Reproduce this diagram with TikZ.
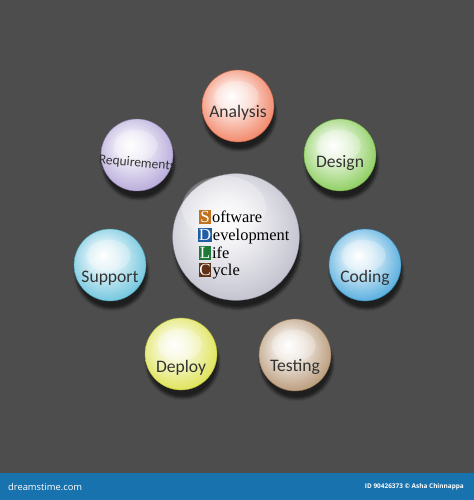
\documentclass[tikz,border=0pt]{standalone}
\usepackage{fontspec}
\setmainfont{Liberation Serif}
\newfontfamily\labfont{Carlito}
\newfontfamily\barfont{Open Sans}
\usepackage{tikz}
\usetikzlibrary{shadows.blur}
\definecolor{bg}{HTML}{4D4D4D}
\definecolor{bar}{HTML}{1872AE}
\definecolor{orng}{HTML}{EE6A45}
\definecolor{grn}{HTML}{72C23A}
\definecolor{blu}{HTML}{2E9AD6}
\definecolor{brn}{HTML}{A9835C}
\definecolor{ylw}{HTML}{D6DC2E}
\definecolor{cyn}{HTML}{4FB8D6}
\definecolor{lav}{HTML}{A797D2}
\definecolor{pale}{HTML}{B4B4C4}
\definecolor{sBox}{HTML}{C0721E}
\definecolor{dBox}{HTML}{1F5EA3}
\definecolor{lBox}{HTML}{1F7A3A}
\definecolor{cBox}{HTML}{5E3214}
\colorlet{glassc}{pale}
\pgfdeclareradialshading[glassc]{glass}{\pgfpoint{-5bp}{7bp}}{%
  color(0bp)=(white); color(10bp)=(white!80!glassc); color(24bp)=(white!35!glassc);
  color(35bp)=(glassc); color(45bp)=(glassc!88!black); color(50bp)=(glassc!72!black)}
\tikzset{
  sphere/.style={circle, minimum size=21.6mm, inner sep=0pt,
    /utils/exec={\colorlet{glassc}{#1}}, shading=glass, shade,
    draw=#1!80!black, line width=0.3pt,
    blur shadow={shadow xshift=0.5mm, shadow yshift=-2.4mm, shadow blur steps=8, shadow opacity=60}},
  lab/.style={text=black!80, font=\labfont\fontsize{15}{17}\selectfont},
  gloss/.style={fill=white, opacity=0.25},
  ini/.style={fill=#1, text=white, inner sep=0.6pt, minimum width=3.6mm, minimum height=4.3mm,
    font=\fontsize{14.5}{16}\selectfont},
  word/.style={font=\fontsize{14}{16}\selectfont, text=black, inner sep=0pt, anchor=base west}
}
\begin{document}
\begin{tikzpicture}[x=0.3mm, y=-0.3mm]
% background and bottom bar
\fill[bg] (0,0) rectangle (474,500);
\fill[bar] (0,473) rectangle (474,500);
\node[text=white, font=\barfont\fontsize{8}{9}\selectfont, anchor=west] (site) at (4,487) {dreamstime.com};
\node[text=white, font=\barfont\bfseries\fontsize{5.5}{6}\selectfont, anchor=east] (cred) at (468,487) {ID 90426373 \textcopyright\ Asha Chinnappa};

% centre sphere
\node[sphere=pale, minimum size=38mm] (sdlc) at (236,237) {};
\fill[gloss] (224,208) ellipse (42 and 32);

% outer spheres
\node[sphere=orng] (ana) at (238,106) {};
\node[sphere=grn] (des) at (340,155) {};
\node[sphere=blu] (cod) at (365,265) {};
\node[sphere=brn] (tst) at (295,355) {};
\node[sphere=ylw] (dep) at (181,354) {};
\node[sphere=cyn] (sup) at (110,265) {};
\node[sphere=lav] (req) at (137,155) {};
\foreach \s in {ana,des,cod,tst,dep,sup,req}
  \fill[gloss] ([xshift=-0.4mm, yshift=2.8mm]\s.center) ellipse (22 and 16);

% labels
\node[lab] (anaT) at ([yshift=-2mm]ana.center) {Analysis};
\node[lab] (desT) at ([yshift=-2.5mm]des.center) {Design};
\node[lab] (codT) at ([yshift=-4mm]cod.center) {Coding};
\node[lab] (tstT) at ([yshift=-3.5mm]tst.center) {Testing};
\node[lab] (depT) at ([yshift=-4mm]dep.center) {Deploy};
\node[lab] (supT) at ([yshift=-4mm]sup.center) {Support};
\node[lab, font=\labfont\fontsize{11.5}{13}\selectfont, rotate=-5] (reqT) at ([yshift=-2.5mm]req.center) {Requirements};

% S D L C
\node[ini=sBox] (s) at (205,217) {S};
\node[ini=dBox] (d) at (205,235) {D};
\node[ini=lBox] (l) at (205,253) {L};
\node[ini=cBox] (c) at (205,270) {C};
\node[word] (sw) at ([xshift=0.2mm]s.base east) {oftware};
\node[word] (dw) at ([xshift=0.2mm]d.base east) {evelopment};
\node[word] (lw) at ([xshift=0.2mm]l.base east) {ife};
\node[word] (cw) at ([xshift=0.2mm]c.base east) {ycle};
\end{tikzpicture}
\end{document}
